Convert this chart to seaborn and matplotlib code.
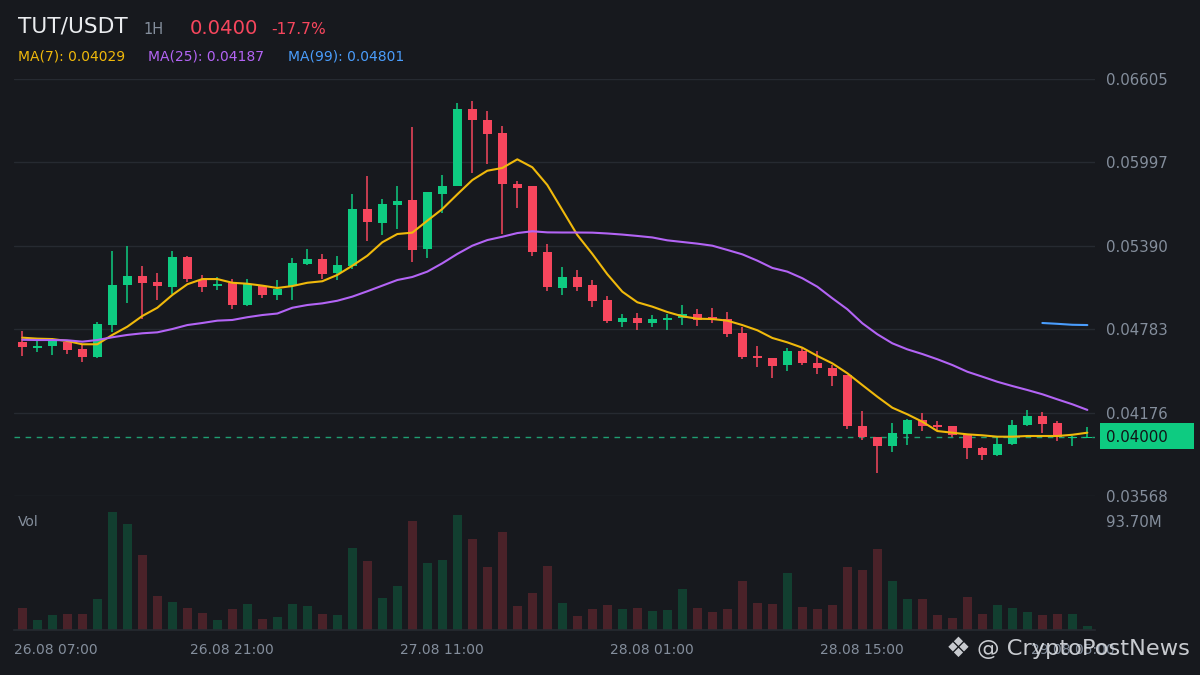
import numpy as np
import pandas as pd
import matplotlib.pyplot as plt
import matplotlib.transforms as mtransforms
from matplotlib.patches import Rectangle
import seaborn as sns

# TUT/USDT 1H candles, 26.08 07:00 .. 29.08 06:00
opens = [0.04690, 0.04648, 0.04663, 0.04690, 0.04639, 0.04583, 0.04813, 0.05105, 0.05170, 0.05127,
         0.05092, 0.05309, 0.05141, 0.05100, 0.05121, 0.04961, 0.05097, 0.05034, 0.05095, 0.05260,
         0.05294, 0.05194, 0.05245, 0.05658, 0.05556, 0.05687, 0.05724, 0.05367, 0.05767, 0.05826,
         0.06387, 0.06306, 0.06212, 0.05840, 0.05826, 0.05345, 0.05083, 0.05163, 0.05105, 0.04996,
         0.04835, 0.04864, 0.04828, 0.04850, 0.04864, 0.04894, 0.04872, 0.04857, 0.04755, 0.04588,
         0.04573, 0.04522, 0.04624, 0.04537, 0.04500, 0.04449, 0.04078, 0.03998, 0.03932, 0.04020,
         0.04122, 0.04085, 0.04078, 0.04012, 0.03918, 0.03867, 0.03947, 0.04085, 0.04151, 0.04100,
         0.03990, 0.03990]
closes = [0.04655, 0.04663, 0.04697, 0.04634, 0.04583, 0.04821, 0.05105, 0.05170, 0.05121, 0.05100,
          0.05309, 0.05148, 0.05092, 0.05112, 0.04961, 0.05112, 0.05034, 0.05076, 0.05265, 0.05294,
          0.05185, 0.05250, 0.05658, 0.05566, 0.05695, 0.05716, 0.05360, 0.05782, 0.05826, 0.06387,
          0.06306, 0.06204, 0.05840, 0.05811, 0.05345, 0.05090, 0.05163, 0.05090, 0.04988, 0.04843,
          0.04864, 0.04828, 0.04857, 0.04864, 0.04894, 0.04850, 0.04850, 0.04748, 0.04580, 0.04573,
          0.04515, 0.04624, 0.04537, 0.04500, 0.04442, 0.04078, 0.03998, 0.03932, 0.04027, 0.04122,
          0.04078, 0.04071, 0.04012, 0.03918, 0.03867, 0.03947, 0.04085, 0.04151, 0.04092, 0.03998,
          0.03998, 0.04000]
highs = [0.04770, 0.04704, 0.04717, 0.04704, 0.04668, 0.04835, 0.05352, 0.05389, 0.05243, 0.05192,
         0.05352, 0.05316, 0.05178, 0.05163, 0.05146, 0.05146, 0.05105, 0.05141, 0.05301, 0.05367,
         0.05331, 0.05316, 0.05767, 0.05899, 0.05731, 0.05826, 0.06255, 0.05782, 0.05906, 0.06430,
         0.06445, 0.06372, 0.06263, 0.05862, 0.05826, 0.05403, 0.05236, 0.05214, 0.05141, 0.05025,
         0.04894, 0.04901, 0.04886, 0.04894, 0.04959, 0.04930, 0.04937, 0.04908, 0.04799, 0.04660,
         0.04573, 0.04646, 0.04653, 0.04624, 0.04522, 0.04449, 0.04187, 0.03998, 0.04100, 0.04129,
         0.04173, 0.04114, 0.04078, 0.04012, 0.03925, 0.03998, 0.04122, 0.04194, 0.04180, 0.04114,
         0.04005, 0.04071]
lows = [0.04588, 0.04619, 0.04595, 0.04602, 0.04546, 0.04575, 0.04765, 0.04976, 0.04857, 0.04996,
        0.05037, 0.05129, 0.05056, 0.05068, 0.04932, 0.04952, 0.05012, 0.04996, 0.04996, 0.05250,
        0.05148, 0.05141, 0.05221, 0.05425, 0.05469, 0.05513, 0.05272, 0.05301, 0.05629, 0.05826,
        0.05920, 0.05986, 0.05476, 0.05666, 0.05316, 0.05061, 0.05032, 0.05061, 0.04945, 0.04828,
        0.04799, 0.04777, 0.04799, 0.04777, 0.04813, 0.04806, 0.04828, 0.04726, 0.04566, 0.04508,
        0.04427, 0.04478, 0.04522, 0.04457, 0.04369, 0.04056, 0.03976, 0.03736, 0.03888, 0.03939,
        0.04041, 0.04049, 0.03998, 0.03838, 0.03830, 0.03859, 0.03939, 0.04078, 0.04027, 0.03969,
        0.03932, 0.03990]
# volume in millions
volumes = [18.7, 8.9, 13.2, 14.1, 14.1, 27.0, 102.1, 91.7, 65.0, 29.6,
           24.4, 19.3, 15.0, 8.9, 17.8, 22.7, 9.8, 11.5, 22.7, 21.0,
           14.1, 13.2, 71.0, 59.8, 27.9, 38.3, 94.3, 58.1, 60.7, 99.5,
           78.8, 54.6, 84.8, 21.0, 32.2, 55.5, 23.6, 12.4, 18.4, 21.9,
           18.4, 19.3, 16.7, 17.5, 35.7, 19.3, 15.8, 18.4, 42.6, 23.6,
           22.7, 49.5, 20.1, 18.4, 21.9, 54.6, 52.1, 70.2, 42.6, 27.0,
           27.0, 13.2, 10.6, 28.8, 14.1, 21.9, 19.3, 15.8, 13.2, 14.1,
           14.1, 3.7]
ma7 = [0.04721, 0.04714, 0.04711, 0.04697, 0.04673, 0.04673, 0.04741, 0.04801, 0.04879, 0.04939,
       0.05032, 0.05110, 0.05148, 0.05148, 0.05121, 0.05114, 0.05100, 0.05083, 0.05097, 0.05121,
       0.05132, 0.05178, 0.05245, 0.05318, 0.05416, 0.05476, 0.05486, 0.05573, 0.05658, 0.05765,
       0.05869, 0.05937, 0.05957, 0.06020, 0.05962, 0.05833, 0.05651, 0.05469, 0.05331, 0.05183,
       0.05056, 0.04979, 0.04947, 0.04908, 0.04877, 0.04859, 0.04857, 0.04845, 0.04813, 0.04775,
       0.04719, 0.04687, 0.04648, 0.04588, 0.04534, 0.04462, 0.04376, 0.04291, 0.04211, 0.04163,
       0.04109, 0.04041, 0.04029, 0.04017, 0.04010, 0.04000, 0.04000, 0.04005, 0.04005, 0.04005,
       0.04014, 0.04029]
ma25 = [0.04706, 0.04704, 0.04704, 0.04702, 0.04692, 0.04704, 0.04724, 0.04741, 0.04753, 0.04760,
        0.04784, 0.04813, 0.04828, 0.04845, 0.04850, 0.04870, 0.04886, 0.04897, 0.04939, 0.04959,
        0.04971, 0.04990, 0.05020, 0.05059, 0.05100, 0.05141, 0.05163, 0.05202, 0.05263, 0.05331,
        0.05391, 0.05432, 0.05456, 0.05483, 0.05496, 0.05488, 0.05487, 0.05487, 0.05486, 0.05480,
        0.05472, 0.05462, 0.05451, 0.05430, 0.05418, 0.05406, 0.05391, 0.05360, 0.05328, 0.05282,
        0.05229, 0.05202, 0.05154, 0.05092, 0.05008, 0.04928, 0.04826, 0.04746, 0.04680, 0.04636,
        0.04602, 0.04564, 0.04522, 0.04473, 0.04437, 0.04400, 0.04369, 0.04340, 0.04309, 0.04272,
        0.04236, 0.04195]
ma99_tail = [0.04828, 0.04822, 0.04815, 0.04813]  # only visible on last 4 candles

price_ticks = [0.06605, 0.05997, 0.05390, 0.04783, 0.04176, 0.03568]
time_ticks = [0, 14, 28, 42, 56, 70]
time_labels = ["26.08 07:00", "26.08 21:00", "27.08 11:00", "28.08 01:00", "28.08 15:00", "29.08 05:00"]
last_price = 0.04000

BG = "#17191e"
GRID = "#262a31"
TXT = "#848e9c"
UP, DOWN = "#0ecb81", "#f6465d"
VUP, VDOWN = "#123f30", "#4a2229"

sns.set_theme(style="dark", rc={"axes.facecolor": BG, "figure.facecolor": BG,
                                "patch.edgecolor": "none", "patch.linewidth": 0})
plt.rcParams["font.family"] = ["DejaVu Sans"]

W, H = 1200, 675
fig = plt.figure(figsize=(12, 6.75), dpi=100)


def px(x0, y0, x1, y1):
    return [x0 / W, 1 - y1 / H, (x1 - x0) / W, (y1 - y0) / H]


ax = fig.add_axes(px(14, 79, 1095, 496))
vax = fig.add_axes(px(14, 505, 1095, 630))

df = pd.DataFrame({"open": opens, "high": highs, "low": lows, "close": closes,
                   "vol": volumes, "ma7": ma7, "ma25": ma25})
df["i"] = np.arange(len(df))
df["dir"] = np.where(df["close"] >= df["open"], "up", "down")
colors = np.where(df["dir"] == "up", UP, DOWN)

# candles
ax.vlines(df["i"], df["low"], df["high"], colors=colors, lw=1.1, zorder=2)
body = (df["close"] - df["open"]).abs().clip(lower=0.00006)
ax.bar(df["i"], body, bottom=df[["open", "close"]].min(axis=1), width=0.6,
       color=colors, linewidth=0, edgecolor="none", zorder=3)

sns.lineplot(data=df, x="i", y="ma7", color="#f0b90b", lw=1.5, ax=ax, zorder=4)
sns.lineplot(data=df, x="i", y="ma25", color="#b364f5", lw=1.5, ax=ax, zorder=4)
sns.lineplot(x=df["i"].iloc[-4:].values, y=ma99_tail, color="#4a9dfc", lw=1.5, ax=ax, zorder=4)

ax.axhline(last_price, color="#1f9e72", lw=1, ls=(0, (4, 4)), zorder=1)

ax.set_xlim(-0.553, 71.51)
ax.set_ylim(0.03568, 0.06605)
ax.set_yticks(price_ticks)
ax.set_yticklabels([f"{v:.5f}" for v in price_ticks])
ax.yaxis.tick_right()
ax.tick_params(axis="y", length=0, pad=8, labelsize=10.8, labelcolor=TXT)
ax.set_xticks([])
ax.set_xlabel("")
ax.set_ylabel("")
ax.grid(axis="y", color=GRID, lw=1)
for s in ax.spines.values():
    s.set_visible(False)

# volume
sns.barplot(data=df, x="i", y="vol", hue="dir", palette={"up": VUP, "down": VDOWN},
            dodge=False, width=0.6, saturation=1, legend=False, linewidth=0,
            edgecolor="none", ax=vax)
vax.set_xlim(-0.553, 71.51)
vax.set_ylim(0, 107.85)
vax.set_yticks([93.70])
vax.set_yticklabels(["93.70M"])
vax.yaxis.tick_right()
vax.tick_params(axis="y", length=0, pad=8, labelsize=10.8, labelcolor=TXT)
vax.set_xticks(time_ticks)
vax.set_xticklabels(time_labels)
vax.tick_params(axis="x", length=0, pad=9, labelsize=10, labelcolor=TXT)
first = vax.get_xticklabels()[0]
first.set_ha("left")
first.set_transform(first.get_transform() + mtransforms.ScaledTranslation(-8 / 100, 0, fig.dpi_scale_trans))
vax.set_xlabel("")
vax.set_ylabel("")
vax.grid(False)
for k, s in vax.spines.items():
    s.set_visible(k == "bottom")
vax.spines["bottom"].set_color(GRID)
vax.spines["bottom"].set_linewidth(1.2)

# header
fig.text(18 / W, 1 - 27 / H, "TUT/USDT", color="#eaecef", fontsize=15.7, va="center")
fig.text(143 / W, 1 - 29 / H, "1H", color=TXT, fontsize=10.5, va="center")
fig.text(190 / W, 1 - 28 / H, "0.0400", color=DOWN, fontsize=14.2, va="center")
fig.text(271 / W, 1 - 29 / H, "-17.7%", color=DOWN, fontsize=11.2, va="center")
fig.text(18 / W, 1 - 57 / H, "MA(7): 0.04029", color="#f0b90b", fontsize=10, va="center")
fig.text(148 / W, 1 - 57 / H, "MA(25): 0.04187", color="#b364f5", fontsize=10, va="center")
fig.text(288 / W, 1 - 57 / H, "MA(99): 0.04801", color="#4a9dfc", fontsize=10, va="center")
fig.text(18 / W, 1 - 522 / H, "Vol", color=TXT, fontsize=10, va="center")

# last price tag
fig.patches.append(Rectangle((1100 / W, 1 - 449 / H), 94 / W, 26 / H, transform=fig.transFigure,
                             facecolor=UP, edgecolor="none", zorder=5))
fig.text(1106 / W, 1 - 437 / H, "0.04000", color="#111316", fontsize=10.8, va="center", zorder=6)

# watermark
fig.text(958 / W, 1 - 649 / H, "\u2756", color="#dcdfe4", fontsize=20, ha="center", va="center", alpha=0.9)
fig.text(977 / W, 1 - 649 / H, "@ CryptoPostNews", color="#dcdfe4", fontsize=16.2, va="center", alpha=0.9)

fig.savefig("out.png", dpi=100, facecolor=BG)
